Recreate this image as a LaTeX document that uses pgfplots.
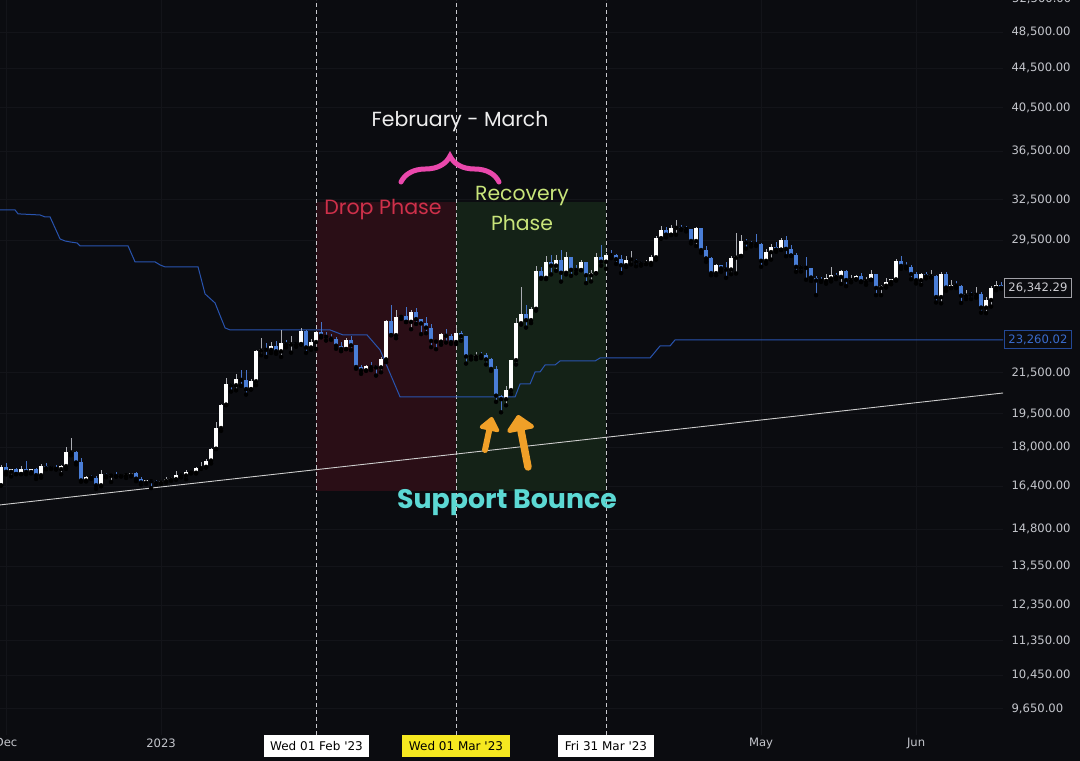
\documentclass[border=0pt]{standalone}
\usepackage{pgfplots}
\pgfplotsset{compat=1.18}
\usepackage{pgfplotstable}
\usepackage{fontspec}
\setmainfont{DejaVu Sans}
\newfontfamily\pop{Poppins}
\usetikzlibrary{arrows.meta,decorations.pathreplacing}
\definecolor{bg}{RGB}{11,12,16}
\definecolor{gridc}{RGB}{19,20,25}
\definecolor{tickc}{RGB}{196,198,204}
\definecolor{upbody}{RGB}{255,255,255}
\definecolor{upwick}{RGB}{170,172,178}
\definecolor{dnbody}{RGB}{74,126,215}
\definecolor{dnwick}{RGB}{70,115,200}
\definecolor{lineblue}{RGB}{41,84,175}
\definecolor{trend}{RGB}{205,205,205}
\definecolor{dropbg}{RGB}{42,14,22}
\definecolor{recbg}{RGB}{20,34,23}
\definecolor{dropt}{RGB}{206,48,74}
\definecolor{rect}{RGB}{200,228,122}
\definecolor{pinkc}{RGB}{234,72,172}
\definecolor{orangec}{RGB}{240,160,40}
\definecolor{tealc}{RGB}{92,216,212}
\definecolor{yellowc}{RGB}{246,232,32}
\definecolor{dashc}{RGB}{200,200,205}

\pgfplotstableread{
d o h l c
-32 16440 17240 16430 17165
-31 17165 17320 16870 16980
-30 16980 17100 16790 17090
-29 17090 17150 16880 16890
-28 16890 17200 16880 17110
-27 17110 17420 16880 16970
-26 16970 17100 16910 17090
-25 17090 17130 16690 16840
-24 16840 17300 16740 17230
-23 17230 17350 17080 17130
-22 17130 17230 17090 17128
-21 17128 17270 17070 17090
-20 17090 17240 16880 17210
-19 17210 18000 17100 17780
-18 17780 18390 17660 17810
-17 17810 17850 17280 17360
-16 17360 17530 16580 16630
-15 16630 16800 16590 16780
-14 16780 16860 16690 16740
-13 16740 16810 16300 16440
-12 16440 17050 16400 16900
-11 16900 16910 16760 16820
-10 16820 16860 16570 16830
-9 16830 16950 16780 16800
-8 16800 16870 16790 16840
-7 16840 16860 16730 16845
-6 16845 16930 16790 16920
-5 16920 16960 16600 16700
-4 16700 16780 16470 16550
-3 16550 16660 16500 16630
-2 16630 16640 16330 16600
-1 16600 16640 16480 16540
0 16540 16620 16500 16610
1 16610 16760 16550 16670
2 16670 16770 16610 16675
3 16675 16990 16660 16850
4 16850 16880 16750 16830
5 16830 17040 16680 16950
6 16950 16960 16910 16940
7 16940 17180 16910 17120
8 17120 17390 17100 17180
9 17180 17490 17150 17440
10 17440 17990 17320 17940
11 17940 19100 17920 18850
12 18850 19960 18720 19930
13 19930 21260 19900 20950
14 20950 20990 20560 20870
15 20870 21450 20620 21180
16 21180 21620 20840 21140
17 21140 21640 20410 20680
18 20680 21190 20660 21070
19 21070 22730 20880 22670
20 22670 23350 22420 22780
21 22780 23060 22330 22710
22 22710 23160 22540 22920
23 22920 23170 22500 22630
24 22630 23790 22330 23060
25 23060 23260 22850 23010
26 23010 23490 22560 23080
27 23080 23160 22880 23030
28 23030 23950 23000 23770
29 23770 23800 22550 22840
30 22840 23300 22720 23140
31 23140 23760 22760 23720
32 23720 24250 23400 23490
33 23490 23690 23220 23430
34 23430 23580 23260 23330
35 23330 23430 22770 22940
36 22940 23150 22640 22760
37 22760 23350 22750 23260
38 23260 23450 22700 22960
39 22960 22990 21710 21800
40 21800 21900 21450 21630
41 21630 21900 21600 21860
42 21860 22080 21640 21790
43 21790 21880 21360 21780
44 21780 22310 21530 22200
45 22200 24370 22050 24330
46 24330 25250 23520 23520
47 23520 24950 23350 24570
48 24570 24710 24450 24630
49 24630 25150 24270 24280
50 24280 24960 23860 24840
51 24840 25120 24160 24440
52 24440 24460 23580 24190
53 24190 24580 23630 23950
54 23950 24130 22860 23200
55 23200 23210 22750 23160
56 23160 23660 22990 23560
57 23560 23870 23110 23490
58 23490 23600 23040 23140
59 23140 23950 23030 23650
60 23650 23770 23210 23470
61 23470 23480 21980 22360
62 22360 22410 22200 22350
63 22350 22610 22210 22430
64 22430 22570 22270 22410
65 22410 22550 21930 22200
66 22200 22270 21600 21700
67 21700 21830 20060 20360
68 20360 20370 19570 20190
69 20190 20830 19900 20630
70 20630 22170 20440 22160
71 22160 24500 21930 24200
72 24200 26390 24120 24750
73 24750 25250 23950 24380
74 24380 25180 24210 25050
75 25050 27740 24940 27420
76 27420 27710 26910 26970
77 26970 28430 26890 28040
78 28040 28510 27190 27770
79 27770 28490 27420 28170
80 28170 28790 26730 27300
81 27300 28710 27190 28330
82 28330 28370 27100 27490
83 27490 27780 27260 27480
84 27480 28130 27460 27990
85 27990 28000 26630 27140
86 27140 27460 26740 27270
87 27270 28620 27260 28350
88 28350 29160 27760 28030
89 28030 28630 27560 28480
90 28480 28800 28270 28470
91 28470 28530 27880 28200
92 28200 28490 27280 27800
93 27800 28440 27680 28170
94 28170 28740 27850 28175
95 28175 28190 27730 28030
96 28030 28100 27770 27920
97 27920 28150 27870 27950
98 27950 28510 27820 28330
99 28330 29770 28170 29650
100 29650 30550 29610 30240
101 30240 30450 29710 29900
102 29900 30600 29870 30390
103 30390 31000 29890 30480
104 30480 30600 30250 30320
105 30320 30550 30130 30310
106 30310 30320 29280 29450
107 29450 30470 29100 30390
108 30390 30410 28630 28820
109 28820 29090 28020 28250
110 28250 28370 27140 27270
111 27270 27870 27140 27820
112 27820 27820 27360 27590
113 27590 28000 26970 27510
114 27510 28380 27210 28300
115 28300 30020 27250 28420
116 28420 29870 28400 29470
117 29470 29580 28920 29340
118 29340 29450 29070 29250
119 29250 29960 29110 29230
120 29230 29330 27690 28090
121 28090 28870 27900 28680
122 28680 29260 28170 29030
123 29030 29350 28700 28850
124 28850 29680 28830 29530
125 29530 29820 28400 28900
126 28900 29160 28420 28450
127 28450 28630 27360 27690
128 27690 27820 27380 27650
129 27650 28330 26850 27620
130 27620 27640 26770 26990
131 26990 27070 25880 26800
132 26800 27030 26710 26780
133 26780 27190 26600 26930
134 26930 27650 26740 27170
135 27170 27280 26890 27030
136 27030 27480 26580 27400
137 27400 27480 26440 26830
138 26830 27180 26690 26890
139 26890 27150 26860 27100
140 27100 27270 26700 26750
141 26750 27020 26530 26850
142 26850 27470 26840 27220
143 27220 27230 25880 26330
144 26330 26540 25880 26470
145 26470 26930 26350 26720
146 26720 26880 26560 26870
147 26870 28200 26790 28080
148 28080 28440 27560 27750
149 27750 28040 27590 27700
150 27700 27830 26880 27220
151 27220 27330 26610 26820
152 26820 27300 26530 27250
153 27250 27340 26940 27070
154 27070 27460 26980 27120
155 27120 27130 25430 25760
156 25760 27360 25380 27240
157 27240 27360 26150 26350
158 26350 26800 26320 26500
159 26500 26790 26320 26480
160 26480 26540 25400 25850
161 25850 26200 25640 25940
162 25940 26080 25640 25900
163 25900 26400 25720 25920
164 25920 26070 24820 25120
165 25120 25740 24790 25580
166 25580 26460 25180 26340
167 26340 26780 26180 26510
168 26510 26690 26280 26342.29
}\btc

\begin{document}
\begin{tikzpicture}[x=1pt,y=1pt]
\useasboundingbox (0,0) rectangle (1080,761);
\fill[bg] (0,0) rectangle (1080,761);
\begin{axis}[
  at={(0pt,26pt)}, anchor=south west,
  width=1003pt, height=735pt, scale only axis,
  ymode=log, xmin=-32.2, xmax=168.4, ymin=9059, ymax=52350,
  axis line style={draw=none},
  major tick length=0pt,
  ytick={9650,10450,11350,12350,13550,14800,16400,18000,19500,21500,29500,32500,36500,40500,44500,48500},
  yticklabels={{9,650.00},{10,450.00},{11,350.00},{12,350.00},{13,550.00},{14,800.00},{16,400.00},{18,000.00},{19,500.00},{21,500.00},{29,500.00},{32,500.00},{36,500.00},{40,500.00},{44,500.00},{48,500.00}},
  yticklabel pos=right,
  yticklabel style={anchor=west, xshift=5pt, text=tickc, font=\fontsize{11.6}{13}\selectfont},
  xtick={-31,0,120,151},
  xticklabels={Dec,2023,May,Jun},
  xticklabel style={text=tickc, font=\fontsize{11.6}{13}\selectfont},
  grid=major, grid style={draw=gridc, line width=0.8pt},
  /pgf/number format/assume math mode=true,
]
% phase rectangles
\fill[dropbg] (axis cs:31,16217) rectangle (axis cs:59,32324);
\fill[recbg] (axis cs:59,16217) rectangle (axis cs:89,32324);
% dashed date lines
\draw[dashc, line width=0.8pt, dash pattern=on 4pt off 3pt] (axis cs:31,9059) -- (axis cs:31,52350);
\draw[dashc, line width=0.8pt, dash pattern=on 4pt off 3pt] (axis cs:59,9059) -- (axis cs:59,52350);
\draw[dashc, line width=0.8pt, dash pattern=on 4pt off 3pt] (axis cs:89,9059) -- (axis cs:89,52350);
% blue stepped line
\addplot[lineblue, line width=1pt, mark=none] coordinates {
(-32.2,31714) (-29.2,31714) (-28.6,31420) (-24.2,31336) (-23.2,31190) (-22.2,31190)
(-20.2,29594) (-19.2,29450) (-18.2,29383) (-16.8,29313) (-16.2,29104) (-6.6,29104)
(-5.2,28015) (-1.2,28015) (-0.2,27815) (0.8,27683) (1.8,27683) (7.4,27683)
(8.8,25954) (10.8,25400) (12.8,23931) (13.8,23817) (33.8,23817) (36.4,23534)
(41.2,23534) (43.8,22707) (47.8,20297) (70.8,20297) (71.8,20937) (73.8,20937)
(74.8,21545) (75.8,21545) (76.8,21908) (78.8,21908) (79.8,22118) (86.8,22118)
(87.8,22275) (97.8,22275) (99.8,22926) (101.8,22926) (102.8,23260.02) (168.4,23260.02)
};
% white trend line
\addplot[trend, line width=0.9pt, mark=none] coordinates {(-32.2,15686) (168.4,20489)};
% wicks
\addplot[only marks, mark=none, forget plot,
  error bars/.cd, y dir=plus, y explicit, error mark=none,
  error bar style={draw=upwick, line width=1pt}]
  table[x expr={\thisrow{c}>=\thisrow{o} ? \thisrow{d} : -1000}, y=l,
        y error plus expr={\thisrow{h}-\thisrow{l}}] {\btc};
\addplot[only marks, mark=none, forget plot,
  error bars/.cd, y dir=plus, y explicit, error mark=none,
  error bar style={draw=dnwick, line width=1pt}]
  table[x expr={\thisrow{c}<\thisrow{o} ? \thisrow{d} : -1000}, y=l,
        y error plus expr={\thisrow{h}-\thisrow{l}}] {\btc};
% bodies
\addplot[only marks, mark=none, forget plot,
  error bars/.cd, y dir=plus, y explicit, error mark=none,
  error bar style={draw=upbody, line width=3.6pt, line cap=butt}]
  table[x expr={\thisrow{c}>=\thisrow{o} ? \thisrow{d} : -1000}, y=o,
        y error plus expr={max(\thisrow{c}-\thisrow{o},0.0025*\thisrow{o})}] {\btc};
\addplot[only marks, mark=none, forget plot,
  error bars/.cd, y dir=plus, y explicit, error mark=none,
  error bar style={draw=dnbody, line width=3.6pt, line cap=butt}]
  table[x expr={\thisrow{c}<\thisrow{o} ? \thisrow{d} : -1000}, y=c,
        y error plus expr={max(\thisrow{o}-\thisrow{c},0.0025*\thisrow{c})}] {\btc};
\coordinate (plast) at (axis cs:168.4,26342.29);
\coordinate (pline) at (axis cs:168.4,23260.02);
\end{axis}
% top partial tick label
\node[anchor=west, text=tickc, font=\fontsize{11.6}{13}\selectfont, inner sep=0pt] at (1012,762) {52,500.00};
% price labels
\node[anchor=west, draw={rgb,255:red,160;green,160;blue,166}, fill=bg, text={rgb,255:red,205;green,205;blue,210}, line width=0.8pt, font=\fontsize{11.6}{13}\selectfont, minimum height=19pt, inner xsep=4pt] at ([xshift=1pt]plast) {26,342.29};
\node[anchor=west, draw={rgb,255:red,35;green,72;blue,150}, fill=bg, text={rgb,255:red,58;green,108;blue,205}, line width=0.8pt, font=\fontsize{11.6}{13}\selectfont, minimum height=18pt, inner xsep=4pt] at ([xshift=1pt]pline) {23,260.02};
% date boxes
\node[fill=white, text=black, font=\fontsize{12}{14}\selectfont, minimum height=22pt, inner xsep=6.5pt] at (316.5,15) {Wed 01 Feb \textquotesingle 23};
\node[fill=yellowc, text=black, font=\fontsize{12}{14}\selectfont, minimum height=22pt, inner xsep=6.5pt] at (456,15) {Wed 01 Mar \textquotesingle 23};
\node[fill=white, text=black, font=\fontsize{12}{14}\selectfont, minimum height=22pt, inner xsep=6.5pt] at (606,15) {Fri 31 Mar \textquotesingle 23};
% annotations
\node[text={rgb,255:red,238;green,238;blue,238}, font=\pop\fontsize{20.4}{22}\selectfont] at (460,639) {February - March};
\draw[pinkc, line width=5pt, line cap=round, decorate, decoration={brace, amplitude=26pt}] (401,579) -- (499,579);
\node[text=dropt, font=\pop\fontsize{20.6}{22}\selectfont] at (383,551) {Drop Phase};
\node[text=rect, font=\pop\fontsize{20.4}{22}\selectfont] at (522,565) {Recovery};
\node[text=rect, font=\pop\fontsize{20.4}{22}\selectfont] at (522,538) {Phase};
\node[text=tealc, font=\pop\bfseries\fontsize{26.8}{30}\selectfont] at (507,258) {Support Bounce};
\draw[orangec, line width=6pt, line cap=round, -{Triangle[round, length=15pt, width=23pt]}] (485,311) -- (492,344);
\draw[orangec, line width=7.5pt, line cap=round, -{Triangle[round, length=17pt, width=32pt]}] (528,294) -- (518,346);
\end{tikzpicture}
\end{document}
